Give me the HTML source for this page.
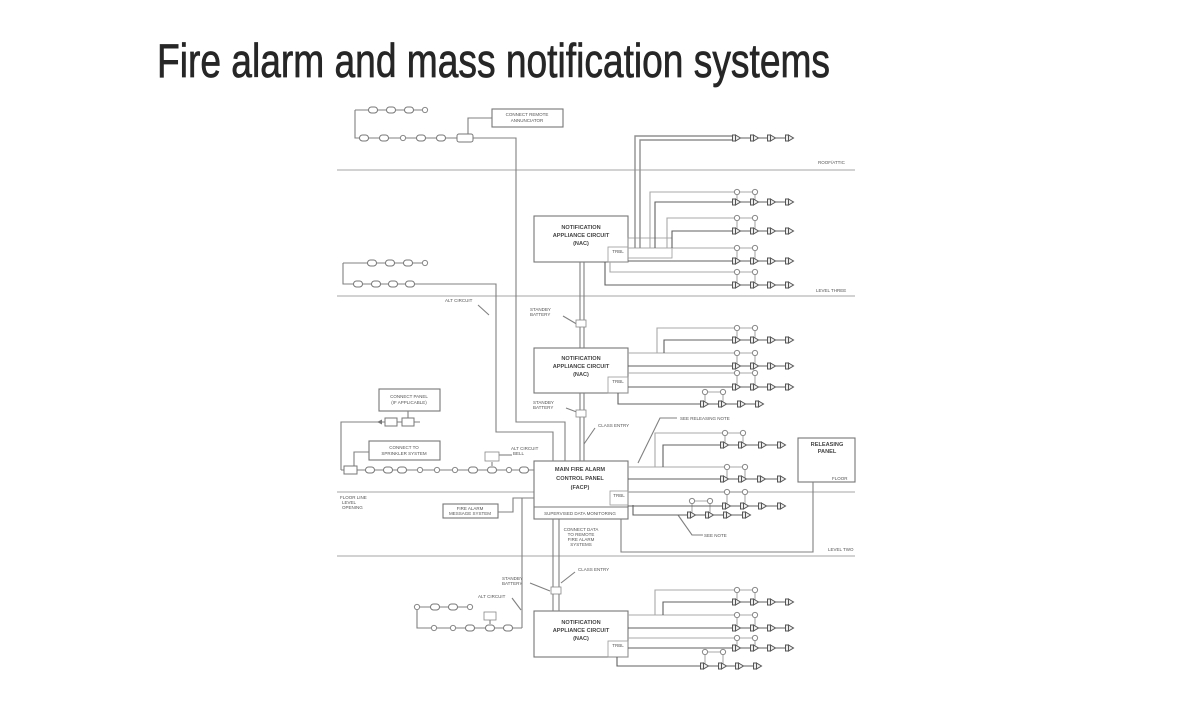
<!DOCTYPE html>
<html><head><meta charset="utf-8"><style>
html,body{margin:0;padding:0;background:#fff;}
svg{display:block;}
.t{font-family:"Liberation Sans",sans-serif;fill:#555;font-size:4.5px;}
.b{font-family:"Liberation Sans",sans-serif;fill:#444;font-size:5.6px;font-weight:bold;}
</style></head><body>
<svg width="1200" height="720" viewBox="0 0 1200 720" xmlns="http://www.w3.org/2000/svg">
<defs>
<g id="dl"><rect x="-4.5" y="-3" width="9" height="6" rx="3" fill="#fff" stroke="#777" stroke-width="1"/></g>
<g id="dr"><path d="M-4.5,-3 h3 v6 h-3 z M-1.5,-3 l5,3 l-5,3 z" fill="#eee" stroke="#555" stroke-width="1"/></g>
<g id="ci"><circle r="2.6" fill="#fff" stroke="#888" stroke-width="1"/></g>
</defs>
<rect width="1200" height="720" fill="#fff"/>
<text x="157" y="77" font-family="'Liberation Sans Narrow','Liberation Sans',sans-serif" font-size="47" fill="#262626" stroke="#262626" stroke-width="0.7" textLength="673" lengthAdjust="spacingAndGlyphs">Fire alarm and mass notification systems</text>

<!-- floor lines -->
<g stroke="#c4c4c4" stroke-width="1.6" fill="none">
<path d="M337,170 H855"/><path d="M337,296 H855"/><path d="M337,492 H534 M628,492 H855"/><path d="M337,556 H855"/>
</g>
<text class="t" x="818" y="164">ROOF/ATTIC</text>
<text class="t" x="816" y="292">LEVEL THREE</text>
<text class="t" x="828" y="551">LEVEL TWO</text>
<text class="t" x="340" y="499">FLOOR LINE</text>
<text class="t" x="342" y="504">LEVEL</text>
<text class="t" x="342" y="509">OPENING</text>

<!-- boxes -->
<g fill="#fff" stroke="#777" stroke-width="1.1">
<rect x="534" y="216" width="94" height="46"/>
<rect x="534" y="348" width="94" height="45"/>
<rect x="534" y="461" width="94" height="58"/>
<rect x="534" y="611" width="94" height="46"/>
<rect x="798" y="438" width="57" height="44"/>
<rect x="492" y="109" width="71" height="18"/>
<rect x="379" y="389" width="61" height="22"/>
<rect x="369" y="441" width="71" height="19"/>
<rect x="443" y="504" width="55" height="14"/>
</g>
<path d="M534,507 H628" stroke="#777" stroke-width="1"/>
<g fill="none" stroke="#999" stroke-width="0.8">
<rect x="608" y="247" width="20" height="15"/><rect x="608" y="377" width="20" height="16"/>
<rect x="610" y="491" width="18" height="14"/><rect x="608" y="641" width="20" height="16"/>
<rect x="628" y="238" width="44" height="20"/>
</g>
<g text-anchor="middle">
<text class="b" x="581" y="229">NOTIFICATION</text><text class="b" x="581" y="237">APPLIANCE CIRCUIT</text><text class="b" x="581" y="245">(NAC)</text>
<text class="b" x="581" y="360">NOTIFICATION</text><text class="b" x="581" y="368">APPLIANCE CIRCUIT</text><text class="b" x="581" y="376">(NAC)</text>
<text class="b" x="580" y="471">MAIN FIRE ALARM</text><text class="b" x="580" y="480">CONTROL PANEL</text><text class="b" x="580" y="489">(FACP)</text>
<text class="t" x="580" y="515">SUPERVISED DATA MONITORING</text>
<text class="b" x="581" y="624">NOTIFICATION</text><text class="b" x="581" y="632">APPLIANCE CIRCUIT</text><text class="b" x="581" y="640">(NAC)</text>
<text class="b" x="827" y="446">RELEASING</text><text class="b" x="827" y="453">PANEL</text>
<text class="t" x="527" y="116">CONNECT REMOTE</text><text class="t" x="527" y="122">ANNUNCIATOR</text>
<text class="t" x="409" y="398">CONNECT PANEL</text><text class="t" x="409" y="404">(IF APPLICABLE)</text>
<text class="t" x="404" y="449">CONNECT TO</text><text class="t" x="404" y="455">SPRINKLER SYSTEM</text>
<text class="t" x="470" y="510">FIRE ALARM</text><text class="t" x="470" y="515">MESSAGE SYSTEM</text>
<text class="t" x="581" y="531">CONNECT DATA</text><text class="t" x="581" y="536">TO REMOTE</text><text class="t" x="581" y="541">FIRE ALARM</text><text class="t" x="581" y="546">SYSTEMS</text>
<text class="t" x="618" y="253">TRBL</text><text class="t" x="618" y="383">TRBL</text><text class="t" x="619" y="497">TRBL</text><text class="t" x="618" y="647">TRBL</text>
</g>
<g class="t">
<text class="t" x="832" y="480">FLOOR</text>
<text class="t" x="680" y="420">SEE RELEASING NOTE</text>
<text class="t" x="704" y="537">SEE NOTE</text>
<text class="t" x="445" y="302">ALT CIRCUIT</text>
<text class="t" x="530" y="311">STANDBY</text><text class="t" x="530" y="316">BATTERY</text>
<text class="t" x="533" y="404">STANDBY</text><text class="t" x="533" y="409">BATTERY</text>
<text class="t" x="598" y="427">CLASS ENTRY</text>
<text class="t" x="511" y="450">ALT CIRCUIT</text><text class="t" x="513" y="455">BELL</text>
<text class="t" x="478" y="598">ALT CIRCUIT</text>
<text class="t" x="502" y="580">STANDBY</text><text class="t" x="502" y="585">BATTERY</text>
<text class="t" x="578" y="571">CLASS ENTRY</text>
</g>

<!-- main wiring -->
<g fill="none" stroke="#808080" stroke-width="1.1">
<path d="M355,110 H428"/><path d="M355,110 V138 H516 V422 H565 V461"/><path d="M468,134 V118 H492"/>
<path d="M343,263 H425"/><path d="M343,263 V284 H496 V432 H553 V461"/>
<path d="M408,411 V419"/><path d="M341,470 V422 H420"/><path d="M354,470 V452 H369"/>
<path d="M341,470 H534"/><path d="M492,462 V466"/>
<path d="M498,512 H513 V498 H534"/>
<path d="M522,498 V628"/>
<path d="M417,607 H470"/><path d="M417,607 V628 H522"/><path d="M490,620 V624"/>
<path d="M580,262 V348 M584,262 V348 M580,393 V461 M584,393 V461"/>
<path d="M553,519 V611 M559,519 V611"/>
<path d="M621,519 V552 H813 V482"/>
<path d="M478,305 L489,315"/><path d="M563,316 L580,326"/><path d="M566,408 L582,414"/>
<path d="M595,428 L584,444"/><path d="M512,598 L521,610"/><path d="M530,583 L550,591"/><path d="M575,572 L561,583"/>
<path d="M677,418 H660 L638,463"/><path d="M678,515 L692,535 H703"/>
<path d="M498,455 L512,455"/>
</g>
<rect x="485" y="452" width="14" height="9" fill="#fff" stroke="#888" stroke-width="0.8"/>
<rect x="484" y="612" width="12" height="8" fill="#fff" stroke="#888" stroke-width="0.8"/>
<g fill="#fff" stroke="#888" stroke-width="0.8">
<rect x="576" y="320" width="10" height="7"/><rect x="576" y="410" width="10" height="7"/><rect x="551" y="587" width="10" height="7"/>
</g>

<!-- right wiring: light circle rows -->
<g fill="none" stroke="#a8a8a8" stroke-width="1.1">
<path d="M650,248 V192 H755"/><path d="M667,248 V218 H755"/><path d="M628,248 H755"/><path d="M610,262 V272 H755"/>
<path d="M657,353 V328 H755"/><path d="M628,353 H755"/><path d="M628,373 H755"/><path d="M705,392 H723"/>
<path d="M655,467 V433 H743"/><path d="M628,467 H745"/><path d="M628,492 H745"/><path d="M692,501 H710"/>
<path d="M655,615 V590 H755"/><path d="M628,615 H755"/><path d="M628,638 H755"/><path d="M705,652 H723"/>
<path d="M737,192 V202 M755,192 V202 M737,218 V231 M755,218 V231 M737,248 V261 M755,248 V261 M737,272 V285 M755,272 V285"/>
<path d="M737,328 V340 M755,328 V340 M737,353 V366 M755,353 V366 M737,373 V387 M755,373 V387 M705,392 V404 M723,392 V404"/>
<path d="M725,433 V445 M743,433 V445 M727,467 V479 M745,467 V479 M727,492 V506 M745,492 V506 M692,501 V515 M710,501 V515"/>
<path d="M737,590 V602 M755,590 V602 M737,615 V628 M755,615 V628 M737,638 V648 M755,638 V648 M705,652 V666 M723,652 V666"/>
</g>
<!-- right wiring: device rows -->
<g fill="none" stroke="#606060" stroke-width="1.1">
<path d="M635,248 V136 H733 M640,248 V140 H733" stroke="#909090" stroke-width="1.4"/>
<path d="M733,138 H793"/>
<path d="M655,248 V202 H793"/><path d="M672,248 V231 H793"/><path d="M628,261 H793"/><path d="M605,262 V285 H793"/>
<path d="M664,353 V340 H793"/><path d="M628,366 H793"/><path d="M628,387 H793"/><path d="M618,393 V404 H762"/>
<path d="M663,467 V445 H785"/><path d="M628,479 H785"/><path d="M628,506 H785"/><path d="M633,505 V515 H749"/>
<path d="M663,615 V602 H793"/><path d="M628,628 H793"/><path d="M628,648 H793"/><path d="M617,657 V666 H760"/>
</g>

<g>
<use href="#ci" x="737" y="192"/><use href="#ci" x="755" y="192"/>
<use href="#ci" x="737" y="218"/><use href="#ci" x="755" y="218"/>
<use href="#ci" x="737" y="248"/><use href="#ci" x="755" y="248"/>
<use href="#ci" x="737" y="272"/><use href="#ci" x="755" y="272"/>
<use href="#ci" x="737" y="328"/><use href="#ci" x="755" y="328"/>
<use href="#ci" x="737" y="353"/><use href="#ci" x="755" y="353"/>
<use href="#ci" x="737" y="373"/><use href="#ci" x="755" y="373"/>
<use href="#ci" x="705" y="392"/><use href="#ci" x="723" y="392"/>
<use href="#ci" x="725" y="433"/><use href="#ci" x="743" y="433"/>
<use href="#ci" x="727" y="467"/><use href="#ci" x="745" y="467"/>
<use href="#ci" x="727" y="492"/><use href="#ci" x="745" y="492"/>
<use href="#ci" x="692" y="501"/><use href="#ci" x="710" y="501"/>
<use href="#ci" x="737" y="590"/><use href="#ci" x="755" y="590"/>
<use href="#ci" x="737" y="615"/><use href="#ci" x="755" y="615"/>
<use href="#ci" x="737" y="638"/><use href="#ci" x="755" y="638"/>
<use href="#ci" x="705" y="652"/><use href="#ci" x="723" y="652"/>
</g>
<g>
<use href="#dr" x="737" y="138"/><use href="#dr" x="755" y="138"/><use href="#dr" x="772" y="138"/><use href="#dr" x="790" y="138"/>
<use href="#dr" x="737" y="202"/><use href="#dr" x="755" y="202"/><use href="#dr" x="772" y="202"/><use href="#dr" x="790" y="202"/>
<use href="#dr" x="737" y="231"/><use href="#dr" x="755" y="231"/><use href="#dr" x="772" y="231"/><use href="#dr" x="790" y="231"/>
<use href="#dr" x="737" y="261"/><use href="#dr" x="755" y="261"/><use href="#dr" x="772" y="261"/><use href="#dr" x="790" y="261"/>
<use href="#dr" x="737" y="285"/><use href="#dr" x="755" y="285"/><use href="#dr" x="772" y="285"/><use href="#dr" x="790" y="285"/>
<use href="#dr" x="737" y="340"/><use href="#dr" x="755" y="340"/><use href="#dr" x="772" y="340"/><use href="#dr" x="790" y="340"/>
<use href="#dr" x="737" y="366"/><use href="#dr" x="755" y="366"/><use href="#dr" x="772" y="366"/><use href="#dr" x="790" y="366"/>
<use href="#dr" x="737" y="387"/><use href="#dr" x="755" y="387"/><use href="#dr" x="772" y="387"/><use href="#dr" x="790" y="387"/>
<use href="#dr" x="705" y="404"/><use href="#dr" x="723" y="404"/><use href="#dr" x="742" y="404"/><use href="#dr" x="760" y="404"/>
<use href="#dr" x="725" y="445"/><use href="#dr" x="743" y="445"/><use href="#dr" x="763" y="445"/><use href="#dr" x="782" y="445"/>
<use href="#dr" x="725" y="479"/><use href="#dr" x="743" y="479"/><use href="#dr" x="762" y="479"/><use href="#dr" x="782" y="479"/>
<use href="#dr" x="727" y="506"/><use href="#dr" x="745" y="506"/><use href="#dr" x="763" y="506"/><use href="#dr" x="782" y="506"/>
<use href="#dr" x="692" y="515"/><use href="#dr" x="710" y="515"/><use href="#dr" x="728" y="515"/><use href="#dr" x="747" y="515"/>
<use href="#dr" x="737" y="602"/><use href="#dr" x="755" y="602"/><use href="#dr" x="772" y="602"/><use href="#dr" x="790" y="602"/>
<use href="#dr" x="737" y="628"/><use href="#dr" x="755" y="628"/><use href="#dr" x="772" y="628"/><use href="#dr" x="790" y="628"/>
<use href="#dr" x="737" y="648"/><use href="#dr" x="755" y="648"/><use href="#dr" x="772" y="648"/><use href="#dr" x="790" y="648"/>
<use href="#dr" x="705" y="666"/><use href="#dr" x="723" y="666"/><use href="#dr" x="740" y="666"/><use href="#dr" x="758" y="666"/>
</g>
<g>
<use href="#dl" x="373" y="110"/><use href="#dl" x="391" y="110"/><use href="#dl" x="409" y="110"/><use href="#ci" x="425" y="110"/>
<use href="#dl" x="364" y="138"/><use href="#dl" x="384" y="138"/><use href="#ci" x="403" y="138"/><use href="#dl" x="421" y="138"/><use href="#dl" x="441" y="138"/>
<rect x="457" y="134" width="16" height="8" rx="2" fill="#fff" stroke="#777"/>
<use href="#dl" x="372" y="263"/><use href="#dl" x="390" y="263"/><use href="#dl" x="408" y="263"/><use href="#ci" x="425" y="263"/>
<use href="#dl" x="358" y="284"/><use href="#dl" x="376" y="284"/><use href="#dl" x="393" y="284"/><use href="#dl" x="410" y="284"/>
<path d="M377,422 l5,-2.5 v5 z" fill="#777"/>
<rect x="385" y="418" width="12" height="8" fill="#fff" stroke="#777"/><rect x="402" y="418" width="12" height="8" fill="#fff" stroke="#777"/>
<rect x="344" y="466" width="13" height="8" fill="#fff" stroke="#777"/>
<use href="#dl" x="370" y="470"/><use href="#dl" x="388" y="470"/><use href="#dl" x="402" y="470"/><use href="#ci" x="420" y="470"/>
<use href="#ci" x="437" y="470"/><use href="#ci" x="455" y="470"/><use href="#dl" x="473" y="470"/><use href="#dl" x="492" y="470"/>
<use href="#ci" x="509" y="470"/><use href="#dl" x="524" y="470"/>
<use href="#ci" x="417" y="607"/><use href="#dl" x="435" y="607"/><use href="#dl" x="453" y="607"/><use href="#ci" x="470" y="607"/>
<use href="#ci" x="434" y="628"/><use href="#ci" x="453" y="628"/><use href="#dl" x="470" y="628"/><use href="#dl" x="490" y="628"/><use href="#dl" x="508" y="628"/>
</g>
</svg>
</body></html>
